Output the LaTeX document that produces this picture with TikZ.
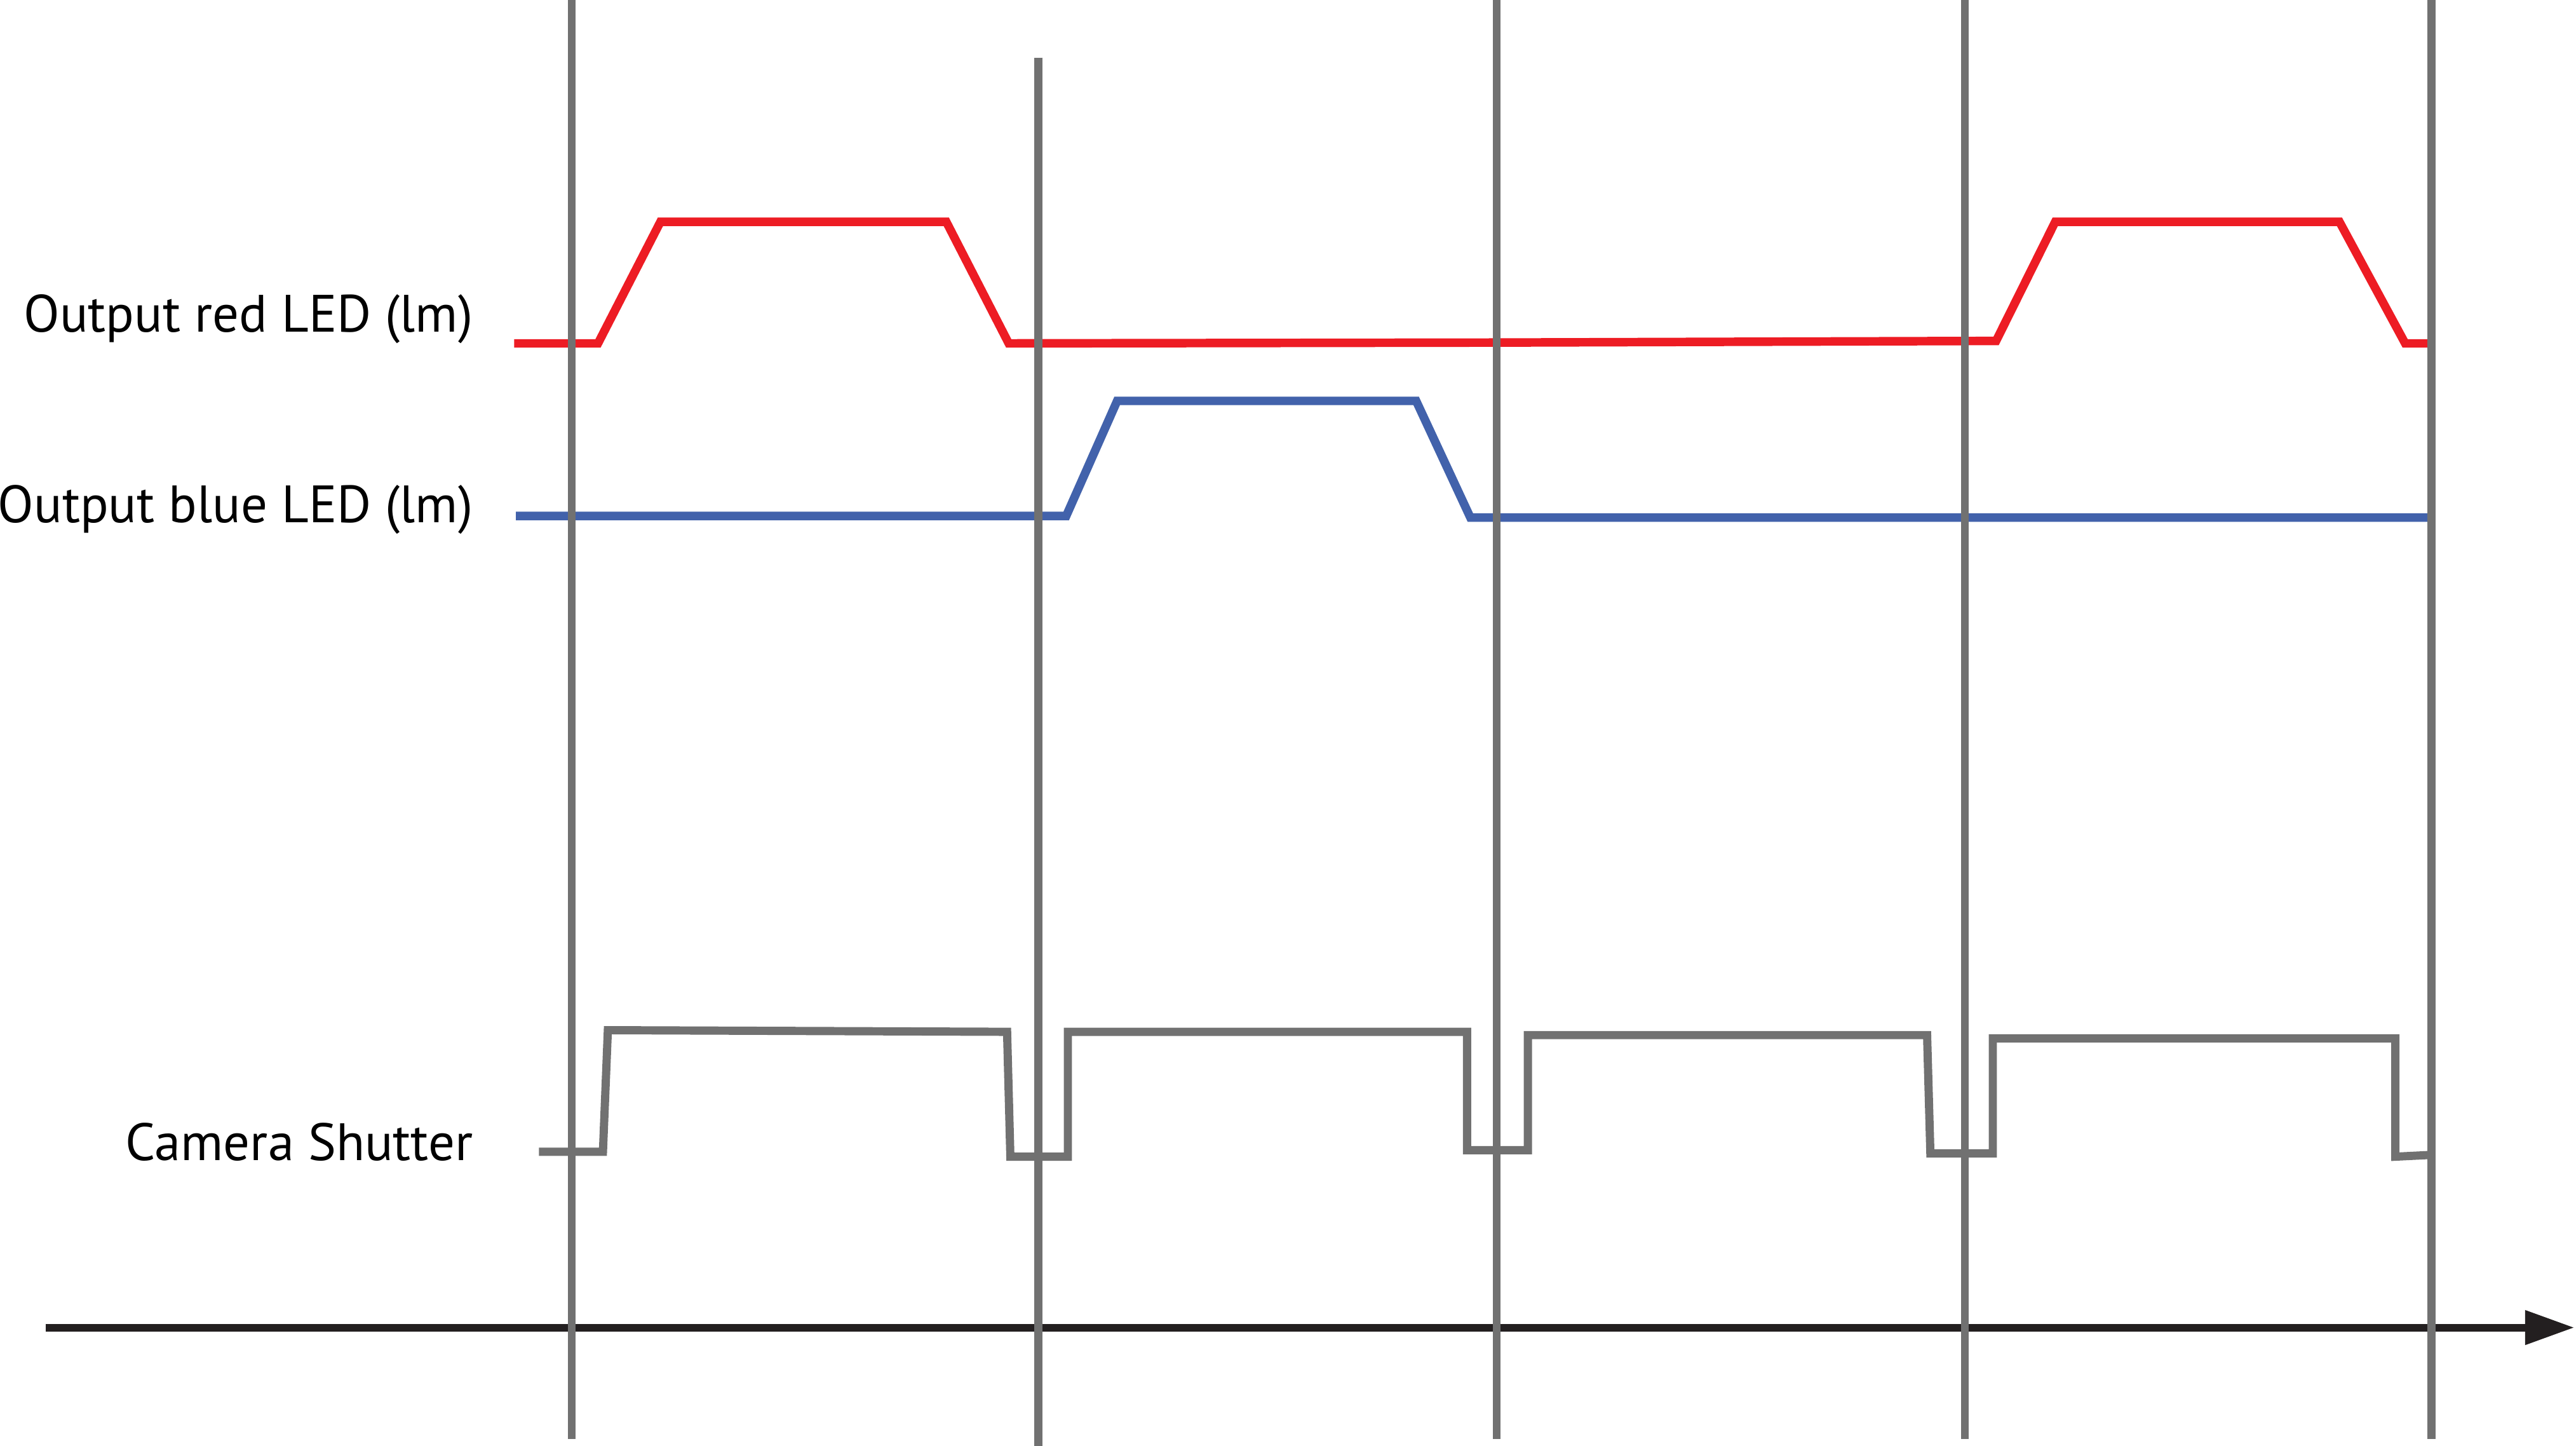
\documentclass[tikz,border=0pt]{standalone}
\usepackage{fontspec}
\setmainfont{PT Sans}
\usetikzlibrary{arrows.meta}
\definecolor{ledred}{HTML}{ED1C24}
\definecolor{ledblue}{HTML}{4262AB}
\definecolor{gridgray}{HTML}{717171}
\definecolor{axisblack}{HTML}{231F20}
\begin{document}
\begin{tikzpicture}[x=1pt,y=-1pt,
  vline/.style={draw=gridgray,line width=5pt},
  redsig/.style={draw=ledred,line width=5.2pt,line join=miter},
  bluesig/.style={draw=ledblue,line width=5.2pt,line join=miter},
  shut/.style={draw=gridgray,line width=5pt,line join=miter},
  lab/.style={anchor=east,inner sep=0pt,font=\fontsize{32}{38}\selectfont}]
\useasboundingbox (0,0) rectangle (1568,880);
% labels
\node[lab] (lred) at (288,194) {Output red LED (lm)};
\node[lab] (lblue) at (288,310) {Output blue LED (lm)};
\node[lab] (lshut) at (288,695) {Camera Shutter};
% time axis
\coordinate (ax0) at (28,808);
\coordinate (ax1) at (1567,808);
\draw[draw=axisblack,line width=4.6pt,-{Triangle[length=30pt,width=20pt]}] (ax0) -- (ax1);
% red LED
\draw[redsig] (313,209) -- (364,209) -- (402,135) -- (576,135) -- (614,209)
  -- (911,208.5) -- (1215,207.5) -- (1251,135) -- (1424,135) -- (1464,209) -- (1478,209);
% blue LED
\draw[bluesig] (314,314) -- (649,314) -- (680,244) -- (862,244) -- (895,315) -- (1478,315);
% camera shutter
\draw[shut] (328,701) -- (367,701) -- (370,627) -- (613,628) -- (615,704) -- (650,704)
  -- (650,628) -- (893,628) -- (893,700) -- (930,700) -- (930,630) -- (1173,630)
  -- (1175,702) -- (1213,702) -- (1213,632) -- (1458,632) -- (1458,704) -- (1478,703);
% vertical frame lines
\coordinate (v1t) at (348,0);   \coordinate (v1b) at (348,876);
\coordinate (v2t) at (632,35);  \coordinate (v2b) at (632,880);
\coordinate (v3t) at (911,0);   \coordinate (v3b) at (911,876);
\coordinate (v4t) at (1196,0);  \coordinate (v4b) at (1196,876);
\coordinate (v5t) at (1480,0);  \coordinate (v5b) at (1480,876);
\draw[vline] (v1t) -- (v1b);
\draw[vline] (v2t) -- (v2b);
\draw[vline] (v3t) -- (v3b);
\draw[vline] (v4t) -- (v4b);
\draw[vline] (v5t) -- (v5b);
\end{tikzpicture}
\end{document}
